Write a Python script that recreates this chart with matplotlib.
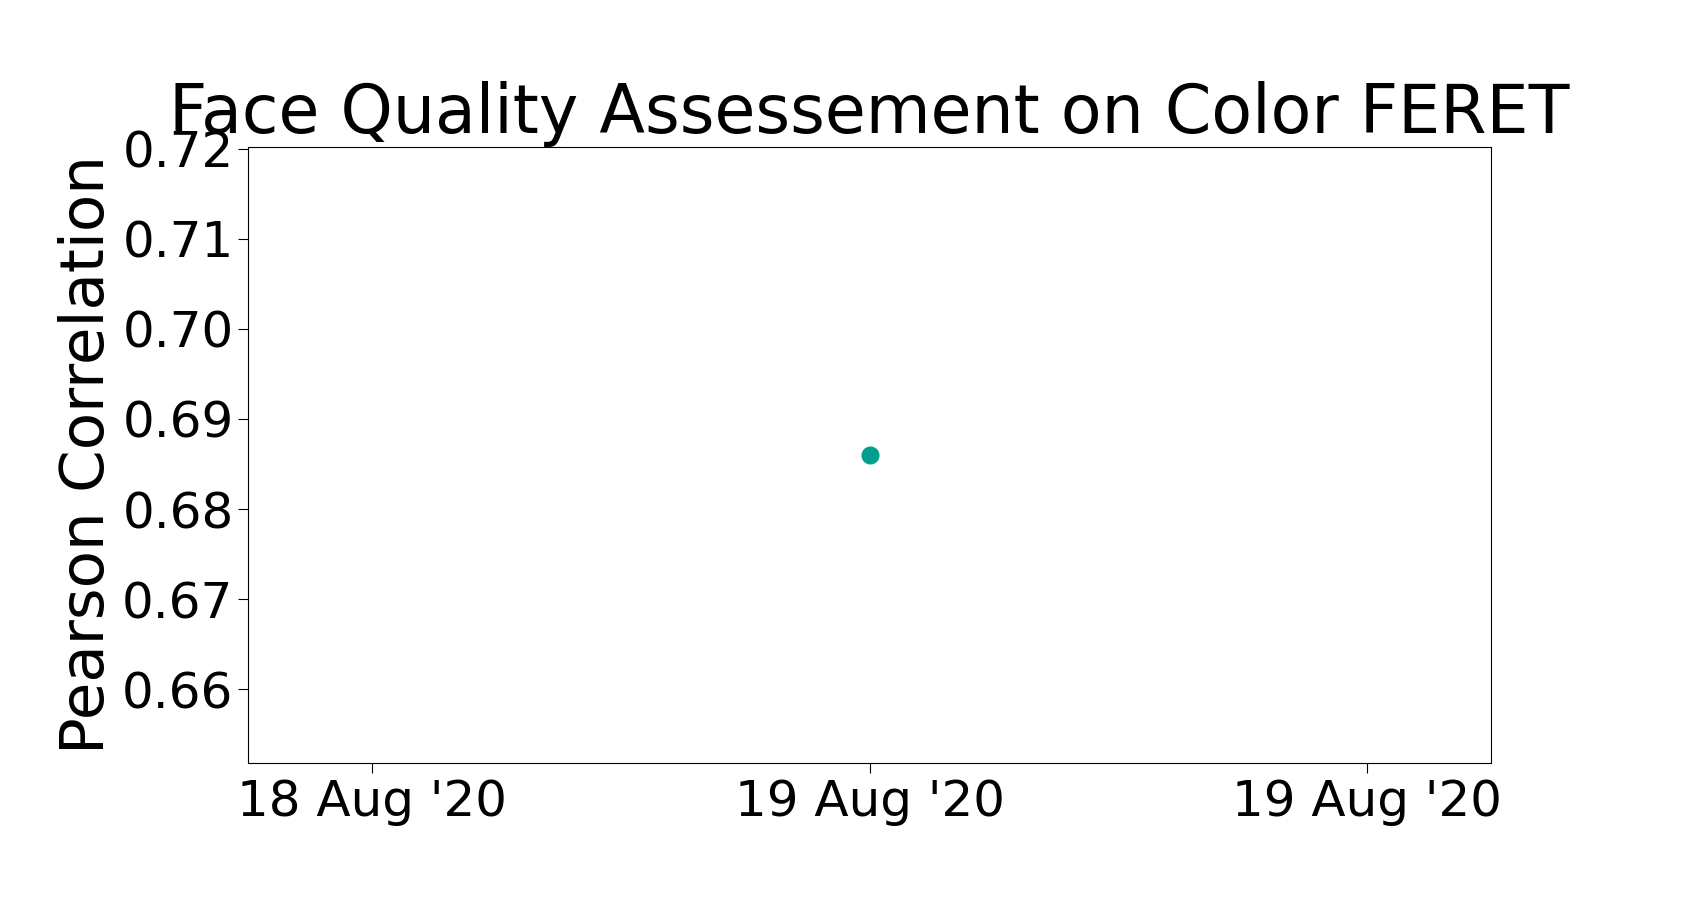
import numpy as np
import matplotlib
matplotlib.use("Agg")
import matplotlib.pyplot as plt
import matplotlib.dates as mdates

# data
dates = np.array(["2020-08-19T08:00"], dtype="datetime64[m]")
pearson = [0.686]

fig = plt.figure(figsize=(17, 9), dpi=100)
ax = fig.add_axes([0.146, 0.152, 0.731, 0.685])

x = mdates.date2num(dates)
ax.plot(x, pearson, "o", color="#009E8E", markersize=12)

ax.set_xlim(x[0] - 0.625, x[0] + 0.625)
ax.set_ylim(0.6518, 0.7202)
ax.set_xticks([x[0] - 0.5, x[0], x[0] + 0.5])
ax.xaxis.set_major_formatter(mdates.DateFormatter("%d %b '%y"))
ax.set_yticks(np.arange(0.66, 0.7201, 0.01))
ax.yaxis.set_major_formatter(matplotlib.ticker.FormatStrFormatter("%.2f"))
ax.tick_params(axis="both", labelsize=36, length=7)

ax.set_ylabel("Pearson Correlation", fontsize=44)
ax.set_title("Face Quality Assessement on Color FERET", fontsize=48, pad=4)

fig.savefig("out.png")
